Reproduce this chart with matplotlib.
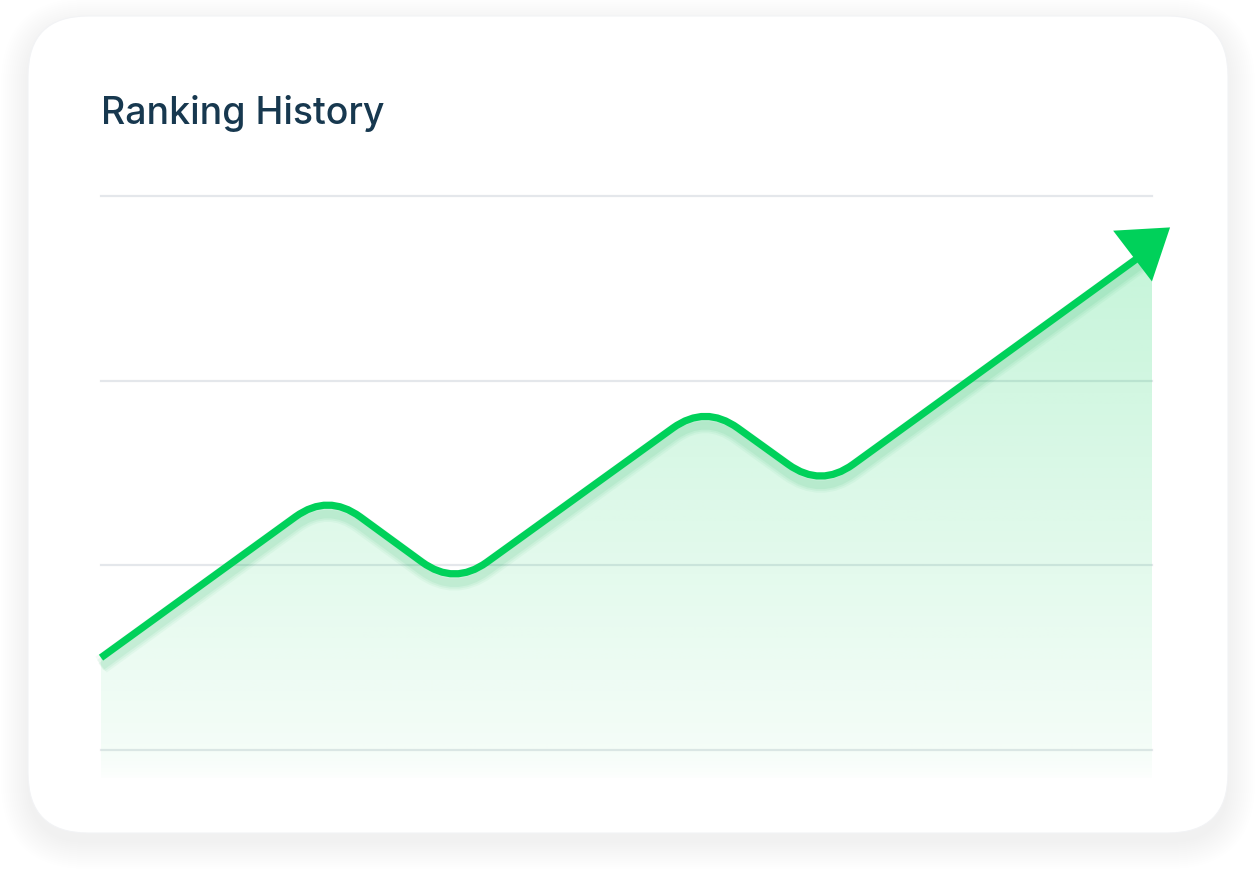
import numpy as np
import matplotlib.pyplot as plt
from matplotlib.patches import FancyBboxPatch, PathPatch
from matplotlib.path import Path
from matplotlib import transforms

# ranking history (arbitrary units: x = weeks, y = rank score)
weeks = [0.0, 2.26, 3.52, 6.02, 7.17, 10.47]
rank_score = [0.50, 1.39, 0.89, 1.87, 1.42, 2.72]
arrow_tip = (10.65, 2.83)
grid_levels = [0, 1, 2, 3]
title = "Ranking History"

GREEN = "#00d15a"
NAVY = "#17384f"
GRID = "#e4e7eb"
W, H = 1256, 874


def rounded_path(ax, xs, ys, radius_px):
    # round the corners of the polyline in display space, then go back to data
    pts = ax.transData.transform(np.column_stack([xs, ys]))
    verts = [pts[0]]
    codes = [Path.MOVETO]
    for i in range(1, len(pts) - 1):
        a = pts[i] - pts[i - 1]
        b = pts[i + 1] - pts[i]
        la, lb = np.hypot(*a), np.hypot(*b)
        c0 = pts[i] - a / la * min(radius_px, la / 2)
        c1 = pts[i] + b / lb * min(radius_px, lb / 2)
        verts += [c0, pts[i], c1]
        codes += [Path.LINETO, Path.CURVE3, Path.CURVE3]
    verts.append(pts[-1])
    codes.append(Path.LINETO)
    verts = ax.transData.inverted().transform(np.array(verts))
    return verts, codes


fig = plt.figure(figsize=(W / 100, H / 100), dpi=100)
fig.patch.set_facecolor("white")

# background layer in pixel units: card + shadow
bg = fig.add_axes([0, 0, 1, 1], zorder=0)
bg.set_xlim(0, W)
bg.set_ylim(H, 0)
bg.axis("off")
for i in range(14):
    grow = 1 + i * 2.0
    bg.add_patch(FancyBboxPatch((28 - grow, 16 - grow + 9), 1200 + 2 * grow, 817 + 2 * grow,
                                boxstyle="round,pad=0,rounding_size=%f" % (60 + grow),
                                facecolor="#8c95aa", edgecolor="none", alpha=0.0038))
bg.add_patch(FancyBboxPatch((28, 16), 1200, 817, boxstyle="round,pad=0,rounding_size=60",
                            facecolor="white", edgecolor="#f2f3f5", lw=0.8))
bg.text(101, 124, title, fontsize=27, color=NAVY, family=["Inter", "DejaVu Sans"],
        fontweight="medium", va="baseline", ha="left")

# chart area
y_bot, y_top = -0.15, 3.0
px_bot = 750 + 0.15 * (750 - 196) / 3
ax = fig.add_axes([101 / W, (H - px_bot) / H, (1152 - 101) / W, (px_bot - 196) / H], zorder=1)
ax.set_facecolor("none")
ax.set_xlim(weeks[0], weeks[-1])
ax.set_ylim(y_bot, y_top)
ax.axis("off")

for lv in grid_levels:
    ax.axhline(lv, color=GRID, lw=1.6, zorder=0.5, clip_on=False)

verts, codes = rounded_path(ax, weeks, rank_score, 40)

# gradient area under the line
fill_verts = np.vstack([verts, [[weeks[-1], y_bot], [weeks[0], y_bot], verts[0]]])
fill_codes = codes + [Path.LINETO, Path.LINETO, Path.CLOSEPOLY]
fill_patch = PathPatch(Path(fill_verts, fill_codes), transform=ax.transData)
yy = np.linspace(y_bot, y_top, 300)
alpha = np.clip(0.045 + 0.068 * yy, 0, None)
alpha[yy < 0] = 0.045 * (1 + yy[yy < 0] / 0.15 * 0.7)
rgb = np.array(plt.matplotlib.colors.to_rgb(GREEN))
grad = np.zeros((300, 2, 4))
grad[..., :3] = rgb
grad[..., 3] = alpha[:, None]
im = ax.imshow(grad, extent=[weeks[0], weeks[-1], y_bot, y_top], origin="lower",
               aspect="auto", interpolation="bilinear", zorder=1)
im.set_clip_path(fill_patch)

# soft shadow under the line
line_path = Path(verts, codes)
for dy, lw, a in [(-7, 14, 0.045), (-8, 10, 0.055), (-9, 6, 0.065)]:
    tr = transforms.offset_copy(ax.transData, fig=fig, x=0, y=dy, units="dots")
    ax.add_patch(PathPatch(line_path, facecolor="none", edgecolor="#00a848", lw=lw,
                           alpha=a, transform=tr, zorder=2, clip_on=False))

ax.add_patch(PathPatch(line_path, facecolor="none", edgecolor=GREEN, lw=5.2,
                       capstyle="butt", joinstyle="round", zorder=3, clip_on=False))

# arrow head at the end (filled triangle, no stroke)
mid = ((weeks[-2] + weeks[-1]) / 2, (rank_score[-2] + rank_score[-1]) / 2)
ax.annotate("", xy=arrow_tip, xytext=mid, annotation_clip=False, zorder=4,
            arrowprops=dict(arrowstyle="-|>,head_length=1.7,head_width=1.15",
                            mutation_scale=20, facecolor=GREEN, edgecolor="none",
                            lw=0, shrinkA=0, shrinkB=0))

fig.savefig("out.png", dpi=100, facecolor="white")
